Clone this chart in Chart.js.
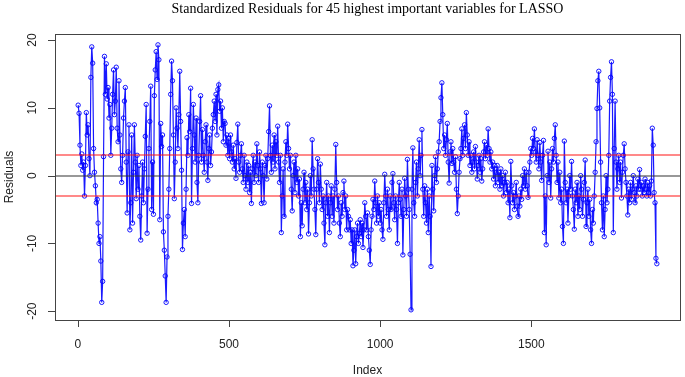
<!DOCTYPE html>
<html>
<head>
<meta charset="utf-8">
<script src="https://cdn.jsdelivr.net/npm/chart.js@4/dist/chart.umd.min.js"></script>
<style>
  html, body { margin: 0; padding: 0; background: #fff; }
  #wrap { width: 685px; height: 377px; position: relative; }
</style>
</head>
<body>
<div id="wrap"><canvas id="resid"></canvas></div>
<script>
const STEP = 3;
const residuals = [
  10.4, 9.2, 4.5, 1.5, 3.2, 0.8, 2.0, -3.0, 1.5, 9.3, 6.0,
  7.5, 2.5, 0.0, 14.5, 19.0, 16.6, 4.0, 0.5, -1.5, -4.0, -3.5,
  -7.0, -10.0, -9.0, -12.6, -18.7, -15.6, 2.8, 17.6, 12.0, 16.5, 11.3,
  13.0, 8.5, 10.5, 3.0, 7.0, 12.0, 15.6, 9.0, 11.0, 16.0, 7.0,
  5.0, 14.0, 6.0, 1.0, -1.0, 3.0, 8.5, 11.0, 13.0, 2.0, -5.5,
  3.5, 7.5, -8.0, -4.0, 6.0, -7.0, 0.5, 7.5, 2.0, -3.4, 3.0,
  -2.0, 1.5, -6.0, -9.5, -3.0, 2.0, -4.0, 1.0, 5.8, 10.5, -8.5,
  -2.0, 4.0, 8.0, 13.2, -5.0, 2.0, -5.7, 11.8, 15.6, 18.3, 14.2,
  19.3, 17.1, -6.5, 7.7, 4.3, 6.0, -8.3, -11.0, -14.8, -18.7, -12.0,
  -6.0, -2.0, 4.0, 12.0, 16.9, 14.0, 6.0, -3.4, 2.0, 10.0, 7.0,
  4.0, 9.0, 15.4, 8.0, 0.8, -10.9, -7.0, -5.0, -9.0, -2.0, 5.6,
  3.0, 9.0, 6.5, 12.9, -4.1, 4.0, 10.5, 6.0, 2.0, 8.5, -1.0,
  -4.0, 3.0, 8.0, 11.8, 2.0, 6.8, 3.0, 0.5, 5.0, 7.5, 2.0,
  -0.7, 4.0, 6.0, 1.5, 3.5, 7.0, 9.0, 11.0, 8.0, 12.0, 6.0,
  12.7, 13.4, 9.5, 11.0, 7.0, 10.0, 5.0, 8.0, 7.7, 4.5, 6.0,
  3.0, 5.5, 2.5, 6.0, 3.5, 2.0, 4.5, 1.0, 2.5, -0.4, 4.9,
  7.6, 2.0, 0.5, 3.0, 4.7, 1.0, -1.0, 3.0, 0.0, -2.0, 2.0,
  -1.0, 1.5, -2.5, 0.5, -4.1, 1.0, 3.0, -1.0, 2.0, 0.0, 4.7,
  1.5, -1.0, 3.5, 1.0, -4.1, 2.0, 0.0, -4.0, 1.5, 3.0, -0.5,
  2.5, 6.5, 10.3, 3.0, 0.5, 4.5, 2.0, 6.0, 1.0, 5.0, 3.0,
  7.3, 2.0, -1.0, 3.0, -8.4, -3.0, 1.0, -6.0, 2.0, 5.0, 3.0,
  7.6, 4.0, 1.0, 3.0, -2.0, -5.2, 0.0, 2.0, -2.5, 3.0, -1.0,
  1.0, -3.0, -0.5, -9.0, -4.0, -7.4, -2.0, 0.5, -4.0, -1.0, -5.0,
  -2.0, -8.6, -4.0, 0.0, -3.0, 5.3, 1.0, -2.0, -5.0, -8.7, -2.0,
  2.5, -1.0, -4.0, 1.7, -2.0, -5.0, -3.0, -7.0, -10.2, -4.0, -1.0,
  -6.0, -3.0, -8.4, -4.0, -1.5, -6.0, -3.0, -7.0, -2.0, 4.6, -1.0,
  -5.0, -3.0, -7.0, -9.0, -4.0, -6.0, -2.5, -0.8, -5.0, -3.0, -8.0,
  -5.0, -6.0, -8.0, -6.5, -10.0, -8.0, -13.3, -11.0, -8.0, -13.0, -9.0,
  -7.0, -10.0, -8.5, -6.5, -9.0, -7.0, -10.6, -8.0, -4.0, -6.0, -8.0,
  -5.5, -9.0, -11.0, -13.1, -8.0, -6.0, -3.5, -5.0, -0.8, -4.0, -7.0,
  -3.0, -6.0, -4.0, -7.0, -5.0, -8.0, -9.4, -4.0, 0.2, -3.0, -6.0,
  -2.0, -5.0, -8.0, -3.0, -5.0, -1.0, 0.3, -4.0, -6.5, -3.0, -5.0,
  -10.0, -4.0, -1.0, -3.5, -6.0, -2.0, -11.7, -5.0, -0.4, -3.0, -6.0,
  2.4, -2.0, -5.0, -11.6, -19.8, -2.0, 4.1, -4.0, -6.0, -1.0, 2.0,
  -3.0, 1.0, 5.3, 0.0, 3.0, 6.8, -2.0, -6.0, -1.5, -4.0, -7.0,
  -2.0, -8.4, -3.0, -6.0, -13.4, 1.5, -2.0, -5.2, 0.0, 2.8, -1.0,
  1.0, 3.5, 5.0, 8.0, 11.5, 13.7, 9.0, 4.0, 6.0, 3.0, 5.3,
  7.7, 2.0, -1.1, 3.5, 5.0, 1.8, 4.0, 2.0, 0.5, 2.8, -2.0,
  -5.6, -3.0, 0.5, 2.5, 4.0, 6.9, 3.0, 5.5, 7.5, 4.0, 9.3,
  6.0, 3.0, 5.0, 1.5, 3.0, 0.5, 2.0, 3.5, 1.0, 4.3, 2.0,
  -0.5, 1.5, 3.0, 0.5, 2.5, -0.8, 1.0, 3.5, 5.0, 2.5, 4.5,
  3.0, 6.9, 4.0, 2.0, 3.5, 1.0, 2.0, -0.5, 1.5, -1.5, 0.5,
  1.5, -1.0, 0.5, -2.0, 1.0, -1.5, 0.0, -3.0, -1.0, 0.5, -2.5,
  -1.0, -4.0, -2.0, -6.2, 2.1, -1.5, -4.0, -2.5, -5.0, -3.0, -1.0,
  -4.5, -6.0, -3.0, -4.5, -2.0, -3.5, 0.0, -1.5, 1.0, -2.0, 0.5,
  -1.5, -3.2, 0.5, 2.0, 4.0, 3.0, 5.5, 4.0, 6.9, 3.5, 2.0,
  5.3, 3.0, 1.0, 4.9, 2.0, -0.7, 3.0, 5.2, -8.4, -3.0, -10.2,
  0.0, 3.6, -1.0, 2.0, -3.3, 1.0, 4.0, 2.0, 5.5, 7.5, 3.0,
  -1.0, 2.0, -3.3, 0.5, -4.0, -2.0, -7.5, -10.0, 5.1, -1.0, -4.0,
  -2.0, -7.0, -3.0, 0.0, -2.0, 2.1, -3.0, -5.0, -7.9, -2.0, -4.0,
  -1.0, -6.0, -3.0, -5.0, 0.0, -2.0, -6.0, -3.5, -1.0, 2.3, -7.5,
  -4.0, -2.0, -6.0, -3.5, -8.0, -10.0, -5.0, -7.0, -3.0, 0.5, 5.0,
  9.9, 14.0, 15.4, 10.0, 2.0, -4.0, -8.0, -3.0, -9.0, -5.0, 0.0,
  -4.0, -2.0, 3.0, 11.0, 14.5, 16.8, 12.0, -8.4, 4.0, 11.0, 2.0,
  -2.0, 1.0, 3.0, -1.0, 2.0, -3.3, 0.5, 3.0, 4.7, 1.0, -1.0,
  -3.0, -5.8, -2.0, -4.0, -1.0, -3.5, -2.0, 0.0, -2.5, -4.0, -1.5,
  -3.0, -0.5, -2.0, 0.9, -2.0, -1.0, -3.0, -1.5, -2.5, -0.5, -2.0,
  -3.0, -1.0, -2.5, -1.5, -3.0, -0.8, 7.0, 4.5, -2.5, -4.0, -12.2,
  -13.0
];
const xTicks = [0, 500, 1000, 1500];
const yTicks = [-20, -10, 0, 10, 20];
const redLines = [3, -3];
const zeroLine = 0;

const points = residuals.map((v, i) => ({ x: 1 + i * STEP, y: v }));

// horizontal rule across the plot region (soft, like the R export)
function hline(ctx, a, value, scale, color) {
  const py = Math.round(scale.getPixelForValue(value));
  ctx.beginPath();
  ctx.strokeStyle = color;
  ctx.lineWidth = 1.2;
  ctx.moveTo(a.left, py);
  ctx.lineTo(a.right, py);
  ctx.stroke();
}

const rAxes = {
  id: 'rAxes',
  afterDatasetsDraw(chart) {
    const { ctx, chartArea: a, scales: { y } } = chart;
    ctx.save();
    hline(ctx, a, zeroLine, y, 'rgb(50,50,50)');
    redLines.forEach(v => hline(ctx, a, v, y, 'rgb(255,20,20)'));
    ctx.restore();
  },
  afterDraw(chart) {
    const { ctx, chartArea: a, scales: { x, y } } = chart;
    ctx.save();
    ctx.strokeStyle = '#444';
    ctx.lineWidth = 1;
    ctx.strokeRect(Math.round(a.left) + 0.5, Math.round(a.top) + 0.5,
                   Math.round(a.right - a.left), Math.round(a.bottom - a.top));

    ctx.fillStyle = '#222';
    ctx.font = '12px "Liberation Sans", Arial, sans-serif';
    ctx.textAlign = 'center';
    ctx.textBaseline = 'middle';
    // x axis
    ctx.beginPath();
    xTicks.forEach(t => {
      const px = Math.round(x.getPixelForValue(t)) + 0.5;
      ctx.moveTo(px, a.bottom); ctx.lineTo(px, a.bottom + 7);
    });
    ctx.stroke();
    xTicks.forEach(t => ctx.fillText(String(t), x.getPixelForValue(t), a.bottom + 25));
    // y axis
    ctx.beginPath();
    yTicks.forEach(t => {
      const py = Math.round(y.getPixelForValue(t)) + 0.5;
      ctx.moveTo(a.left, py); ctx.lineTo(a.left - 7, py);
    });
    ctx.stroke();
    yTicks.forEach(t => {
      ctx.save();
      ctx.translate(a.left - 22, y.getPixelForValue(t));
      ctx.rotate(-Math.PI / 2);
      ctx.fillText(String(t), 0, 0);
      ctx.restore();
    });
    // axis titles
    ctx.fillText('Index', (a.left + a.right) / 2, 371);
    ctx.save();
    ctx.translate(10, (a.top + a.bottom) / 2);
    ctx.rotate(-Math.PI / 2);
    ctx.fillText('Residuals', 0, 0);
    ctx.restore();
    // main title
    ctx.fillStyle = '#000';
    ctx.font = '14px "Liberation Serif", "Times New Roman", serif';
    ctx.fillText('Standardized Residuals for 45 highest important variables for LASSO', (a.left + a.right) / 2, 9);
    ctx.restore();
  }
};

new Chart(document.getElementById('resid'), {
  type: 'line',
  data: {
    datasets: [{
      data: points,
      borderColor: 'rgba(0,0,255,0.9)',
      borderWidth: 1.2,
      pointRadius: 2.2,
      pointBorderWidth: 1,
      pointBorderColor: 'rgba(0,0,255,0.9)',
      pointBackgroundColor: 'rgba(0,0,0,0)',
      tension: 0
    }]
  },
  options: {
    responsive: true,
    maintainAspectRatio: false,
    animation: false,
    devicePixelRatio: 1,
    layout: { padding: { left: 55, top: 34, right: 1, bottom: 57 } },
    plugins: { legend: { display: false }, tooltip: { enabled: false } },
    scales: {
      x: { type: 'linear', display: false, min: -75.6, max: 1991.6 },
      y: { display: false, min: -21.3, max: 20.9 }
    }
  },
  plugins: [rAxes]
});
</script>
</body>
</html>
